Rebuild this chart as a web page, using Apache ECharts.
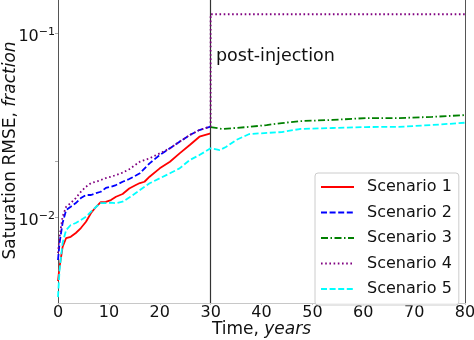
<!DOCTYPE html>
<html>
<head>
<meta charset="utf-8">
<script src="https://cdn.jsdelivr.net/npm/echarts@6/dist/echarts.min.js"></script>
<style>
  html, body { margin: 0; padding: 0; background: #fff; }
  #chart { width: 474px; height: 340px; }
</style>
</head>
<body>
<div id="chart"></div>
<script>
// Saturation RMSE over time for five scenarios (injection phase 0-30 years, then post-injection)
const scenario1Years = [0, 0.3, 0.9, 1.6, 2.5, 3.5, 4.5, 5.5, 6.5, 7.5, 8.4, 9.4, 10.4, 11.4, 12.7, 14, 15.3, 16.1, 17, 18, 20, 22, 23.9, 25.9, 27.8, 30];
const scenario1Rmse  = [0.00449, 0.00535, 0.00687, 0.00769, 0.00781, 0.00819, 0.00871, 0.00943, 0.01051, 0.01137, 0.01206, 0.0121, 0.01237, 0.01289, 0.01334, 0.01429, 0.01492, 0.0153, 0.01555, 0.01656, 0.01839, 0.01998, 0.02219, 0.02462, 0.02732, 0.02851];

const scenario2Years = [0, 0.3, 0.9, 1.6, 2.5, 3.5, 4.5, 5.5, 6.5, 7.5, 8.4, 9.4, 10.4, 11.4, 12.7, 14, 15.3, 16.1, 18, 20, 22, 23.9, 25.9, 27.8, 30];
const scenario2Rmse  = [0.00584, 0.00722, 0.00928, 0.01091, 0.01137, 0.01191, 0.01268, 0.01317, 0.01317, 0.0135, 0.01372, 0.01438, 0.01461, 0.01492, 0.01555, 0.01609, 0.0168, 0.0173, 0.01958, 0.02173, 0.02362, 0.02566, 0.02791, 0.0297, 0.03096];

const scenario3Years = [30, 32.4, 35, 37.6, 41, 44, 47.5, 54, 60.5, 67, 73.5, 80];
const scenario3Rmse  = [0.0308, 0.0301, 0.0305, 0.0309, 0.0316, 0.0324, 0.0332, 0.0337, 0.0345, 0.0345, 0.035, 0.0358];

const scenario4Years = [0, 0.3, 0.9, 1.6, 2.5, 3.5, 4.5, 5.5, 6.5, 7.5, 8.4, 9.4, 10.4, 11.4, 12.7, 14, 16.1, 18, 20, 22, 23.9, 25.9, 27.8, 30, 30, 80];
const scenario4Rmse  = [0.00637, 0.00781, 0.01004, 0.01137, 0.01191, 0.01268, 0.01372, 0.01461, 0.0153, 0.01555, 0.01589, 0.01629, 0.01656, 0.01691, 0.01741, 0.0182, 0.01998, 0.02085, 0.02219, 0.02362, 0.02566, 0.0279, 0.0297, 0.0311, 0.1265, 0.1265];

const scenario5Years = [0, 0.3, 0.9, 1.6, 2.5, 3.5, 4.5, 5.5, 6.5, 7.5, 8.4, 9.4, 10.4, 11.4, 12.7, 14, 16.1, 18, 20, 22, 23.9, 25.9, 27.8, 30, 31.8, 33, 35, 37.6, 44, 47.5, 54, 60.5, 67, 73.5, 80];
const scenario5Rmse  = [0.00367, 0.00515, 0.00722, 0.0085, 0.00905, 0.00928, 0.00963, 0.01004, 0.01069, 0.01137, 0.01191, 0.01191, 0.01196, 0.0119, 0.01211, 0.01276, 0.01402, 0.01525, 0.01623, 0.01728, 0.01839, 0.02041, 0.02173, 0.02362, 0.02312, 0.024, 0.0262, 0.02825, 0.02897, 0.03008, 0.03046, 0.03084, 0.0309, 0.03162, 0.03254];

const seriesNames = ['Scenario 1', 'Scenario 2', 'Scenario 3', 'Scenario 4', 'Scenario 5'];
const xTicks = [0, 10, 20, 30, 40, 50, 60, 70, 80];
const yMajorTicks = [0.01, 0.1];
const yMinorTicks = [0.02];
const injectionEnd = 30;
const phaseLabel = 'post-injection';

const FONT = 'DejaVu Sans';

function pairs(xs, ys) { return xs.map((x, i) => [x, ys[i]]); }

const styles = [
  { color: '#ff0000', type: 'solid' },
  { color: '#0000ff', type: [6, 2.6] },
  { color: '#008000', type: [7, 2.5, 1.5, 2.5] },
  { color: '#800080', type: [1.6, 2.6] },
  { color: '#00ffff', type: [6, 2.6] }
];
const seriesData = [
  pairs(scenario1Years, scenario1Rmse),
  pairs(scenario2Years, scenario2Rmse),
  pairs(scenario3Years, scenario3Rmse),
  pairs(scenario4Years, scenario4Rmse),
  pairs(scenario5Years, scenario5Rmse)
];

const series = seriesNames.map((name, i) => ({
  name: name,
  type: 'line',
  data: seriesData[i],
  symbol: 'none',
  smooth: false,
  animation: false,
  lineStyle: { color: styles[i].color, width: 1.8, type: styles[i].type },
  itemStyle: { color: styles[i].color, opacity: 0 },
  z: 3 + i
}));

// vertical marker at the end of injection
series[0].markLine = {
  silent: true,
  symbol: 'none',
  animation: false,
  label: { show: false },
  lineStyle: { color: '#333', width: 1.2, type: 'solid' },
  data: [{ xAxis: injectionEnd }]
};

const chart = echarts.init(document.getElementById('chart'), null, { renderer: 'canvas' });
chart.setOption({
  backgroundColor: '#fff',
  animation: false,
  textStyle: { fontFamily: FONT },
  grid: { left: 58, right: 9, top: -2, bottom: 37, containLabel: false, outerBoundsMode: 'none' },
  xAxis: {
    type: 'value',
    min: 0, max: 80, interval: 10,
    name: '{n|Time, }{i|years}',
    nameLocation: 'middle',
    nameGap: 18,
    nameMoveOverlap: false,
    nameTextStyle: {
      rich: {
        n: { fontFamily: FONT, fontSize: 17, color: '#111' },
        i: { fontFamily: FONT, fontSize: 17, color: '#111', fontStyle: 'italic' }
      }
    },
    axisLine: { show: true, lineStyle: { color: '#c8c8c8', width: 1 } },
    axisTick: { show: true, length: 2, lineStyle: { color: '#c8c8c8' }, customValues: xTicks },
    axisLabel: { fontFamily: FONT, fontSize: 16, color: '#111', margin: 2, customValues: xTicks },
    splitLine: { show: false }
  },
  yAxis: [{
    type: 'log',
    logBase: 10,
    min: 0.00341,
    max: 0.155,
    name: '{n|Saturation RMSE, }{i|fraction}',
    nameLocation: 'middle',
    nameGap: 39,
    nameMoveOverlap: false,
    nameTextStyle: {
      rich: {
        n: { fontFamily: FONT, fontSize: 17, color: '#111' },
        i: { fontFamily: FONT, fontSize: 17, color: '#111', fontStyle: 'italic' }
      }
    },
    axisLine: { show: true, lineStyle: { color: '#555', width: 1 } },
    axisTick: { show: true, length: 3, lineStyle: { color: '#aaa' }, customValues: yMajorTicks.concat(yMinorTicks) },
    axisLabel: {
      margin: 3,
      padding: [5, 0, 0, 0],
      customValues: yMajorTicks,
      formatter: function (v) {
        const e = Math.round(Math.log10(v));
        return '{b|10}{s|\u2212' + Math.abs(e) + '}';
      },
      rich: {
        b: { fontFamily: FONT, fontSize: 16, color: '#111', lineHeight: 18, verticalAlign: 'bottom' },
        s: { fontFamily: FONT, fontSize: 11, color: '#111', lineHeight: 11, verticalAlign: 'top' }
      }
    },
    splitLine: { show: false }
  }, {
    type: 'value',
    position: 'right',
    min: 0, max: 1,
    axisLine: { show: true, lineStyle: { color: '#555', width: 1 } },
    axisTick: { show: false },
    axisLabel: { show: false },
    splitLine: { show: false }
  }],
  legend: {
    orient: 'vertical',
    left: 315,
    top: 173,
    data: seriesNames,
    itemWidth: 33,
    itemHeight: 14,
    itemGap: 9.5,
    padding: [6, 7, 8, 5],
    backgroundColor: 'rgba(255,255,255,0.8)',
    borderColor: '#cccccc',
    borderWidth: 1,
    borderRadius: 3,
    itemStyle: { opacity: 0 },
    textStyle: { fontFamily: FONT, fontSize: 16, color: '#111', padding: [0, 0, 0, 8] }
  },
  graphic: [{
    type: 'text',
    left: 216,
    top: 47,
    style: { text: phaseLabel, fontFamily: FONT, fontSize: 17.5, fill: '#111' },
    z: 10
  }],
  series: series
});
</script>
</body>
</html>
